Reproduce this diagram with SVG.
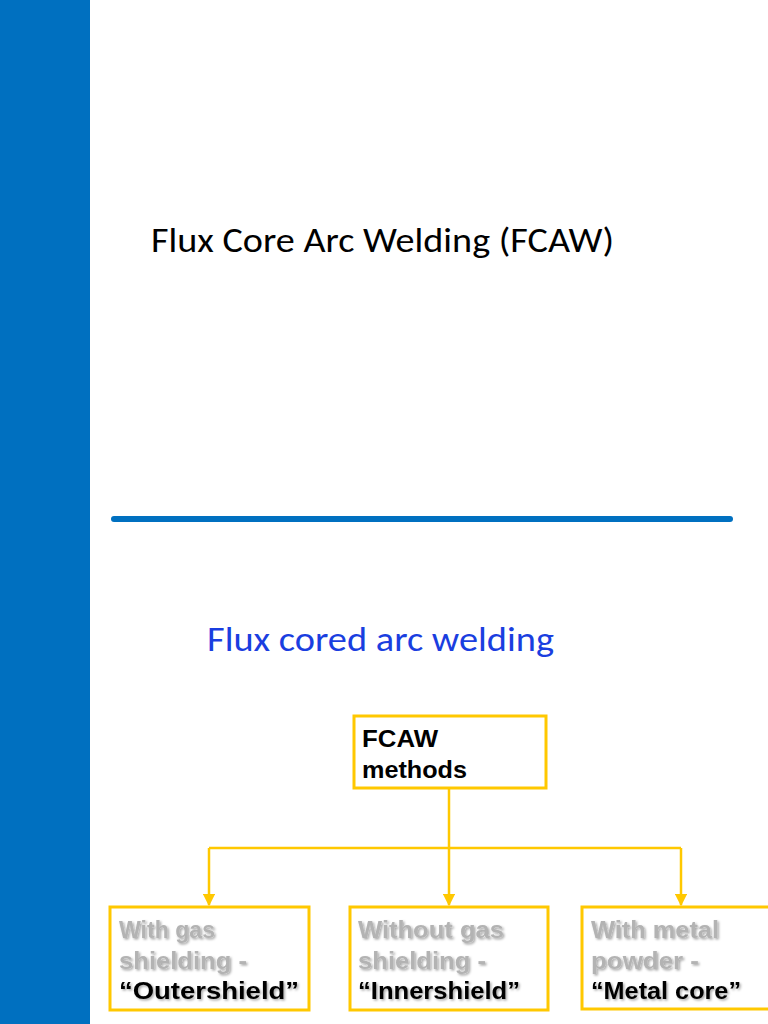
<svg xmlns="http://www.w3.org/2000/svg" width="768" height="1024" viewBox="0 0 768 1024">
<defs>
<style>
.box{fill:#fff;stroke:#ffc800;stroke-width:3}
.con{fill:none;stroke:#ffc800;stroke-width:2.5}
.t{font-family:"Liberation Sans",Arial,sans-serif;font-weight:bold;font-size:24px}
.g{fill:#b3b3b3}
.k{fill:#000}
</style>
<marker id="ah" viewBox="0 0 10 10" refX="9" refY="5" markerWidth="5" markerHeight="5" orient="auto"><path d="M0,0L10,5L0,10z" fill="#ffc800"/></marker>
<filter id="sh" x="-5%" y="-10%" width="110%" height="130%"><feDropShadow dx="1.5" dy="1.5" stdDeviation="0.8" flood-color="#000" flood-opacity="0.35"/></filter>
</defs>
<rect width="768" height="1024" fill="#fff"/>
<rect x="0" y="0" width="90" height="1024" fill="#0070c0"/>
<text x="151" y="252" font-family="Carlito,'Open Sans',sans-serif" font-size="34" fill="#000" textLength="463" lengthAdjust="spacingAndGlyphs">Flux Core Arc Welding (FCAW)</text>
<line x1="114" y1="519" x2="730" y2="519" stroke="#0070c0" stroke-width="6" stroke-linecap="round"/>
<text x="207" y="651" font-family="Carlito,'Open Sans',sans-serif" font-size="34" fill="#1a3ee0" textLength="347" lengthAdjust="spacingAndGlyphs">Flux cored arc welding</text>
<g id="connectors">
<path class="con" d="M449,788V848"/>
<path class="con" d="M209,848H681"/>
<path class="con" d="M209,848V905" marker-end="url(#ah)"/>
<path class="con" d="M449,848V905" marker-end="url(#ah)"/>
<path class="con" d="M681,848V905" marker-end="url(#ah)"/>
</g>
<g id="root"><rect class="box" x="354" y="716" width="192" height="72"/>
<text class="t k" x="362" y="747" textLength="76" lengthAdjust="spacingAndGlyphs">FCAW</text><text class="t k" x="362" y="778" textLength="105" lengthAdjust="spacingAndGlyphs">methods</text></g>
<g id="outer"><rect class="box" x="110" y="907" width="199" height="103"/>
<g filter="url(#sh)"><text class="t g" x="119" y="938" textLength="96" lengthAdjust="spacingAndGlyphs">With gas</text><text class="t g" x="119" y="969" textLength="128" lengthAdjust="spacingAndGlyphs">shielding -</text><text class="t k" x="119" y="999" textLength="180" lengthAdjust="spacingAndGlyphs">“Outershield”</text></g></g>
<g id="inner"><rect class="box" x="350" y="907" width="198" height="103"/>
<g filter="url(#sh)"><text class="t g" x="358" y="938" textLength="146" lengthAdjust="spacingAndGlyphs">Without gas</text><text class="t g" x="358" y="969" textLength="128" lengthAdjust="spacingAndGlyphs">shielding -</text><text class="t k" x="358" y="999" textLength="162" lengthAdjust="spacingAndGlyphs">“Innershield”</text></g></g>
<g id="metal"><rect class="box" x="582" y="907" width="200" height="102"/>
<g filter="url(#sh)"><text class="t g" x="591" y="938" textLength="128" lengthAdjust="spacingAndGlyphs">With metal</text><text class="t g" x="591" y="969" textLength="108" lengthAdjust="spacingAndGlyphs">powder -</text><text class="t k" x="591" y="999" textLength="150" lengthAdjust="spacingAndGlyphs">“Metal core”</text></g></g>
</svg>
